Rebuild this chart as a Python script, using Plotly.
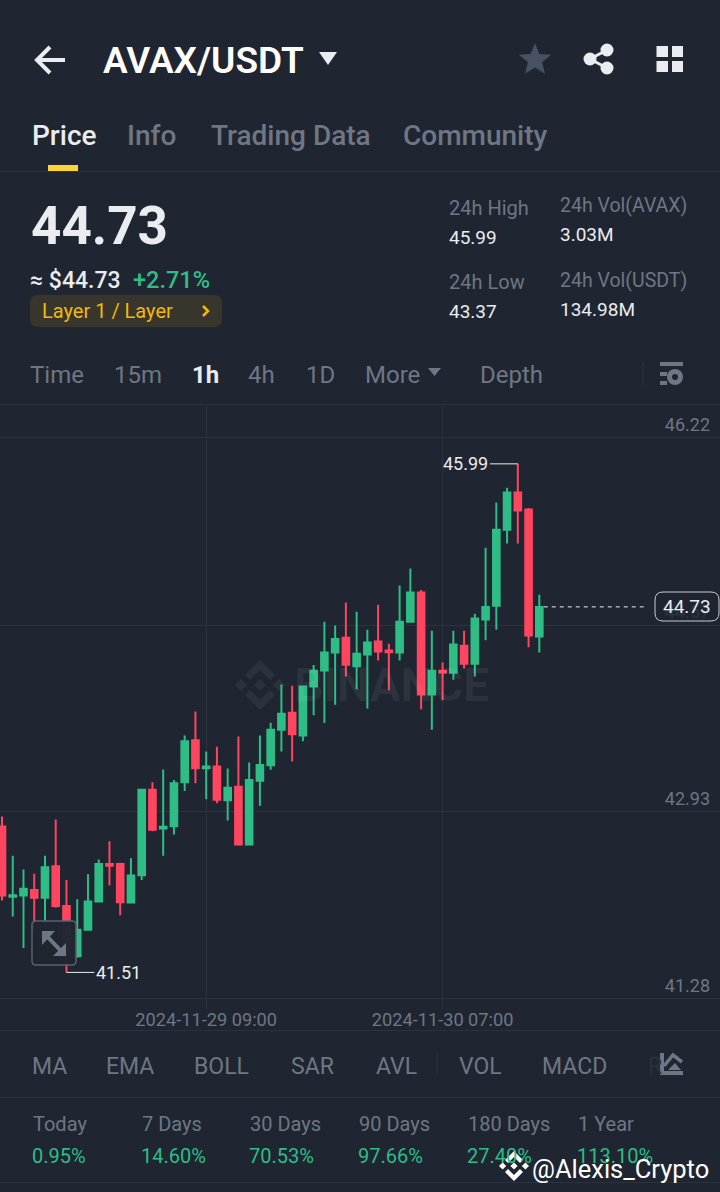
import math
import pandas as pd
import plotly.graph_objects as go

W = 720
H = 1192
BG = "#1f2631"
GRID = "#2c333e"
GREY = "#6f7684"
WHITE = "#eaecef"
GREEN = "#2ebd85"
RED = "#ff4560"
FONT = "Roboto"

# hourly candles
times = pd.date_range("2024-11-28 14:00", periods=51, freq="h")
opens = [42.795, 42.176, 42.188, 42.237, 42.167, 42.446, 42.096, 41.653, 41.885, 42.134,
         42.466, 42.466, 42.126, 42.366, 43.118, 42.778, 42.798, 43.186, 43.556, 43.309,
         43.324, 43.027, 43.145, 42.637, 43.198, 43.335, 43.647, 43.797, 43.597, 44.029,
         44.170, 44.328, 44.458, 44.208, 44.311, 44.425, 44.346, 44.328, 44.599, 44.857,
         43.958, 44.167, 44.149, 44.387, 44.229, 44.619, 44.740, 45.409, 45.738, 45.588,
         44.469]
highs = [42.883, 42.537, 42.416, 42.378, 42.537, 42.857, 42.325, 42.155, 42.375, 42.504,
         42.666, 42.475, 42.516, 43.118, 43.186, 43.297, 43.206, 43.597, 43.808, 43.456,
         43.497, 43.306, 43.588, 43.359, 43.597, 43.709, 44.046, 44.035, 44.029, 44.217,
         44.599, 44.566, 44.769, 44.687, 44.528, 44.748, 44.405, 44.919, 45.068, 44.878,
         44.519, 44.240, 44.519, 44.519, 44.669, 45.250, 45.650, 45.779, 45.990, 45.600,
         44.836]
lows = [42.143, 42.003, 41.726, 41.879, 41.908, 42.079, 41.510, 41.638, 41.885, 42.126,
        42.275, 42.014, 42.120, 42.325, 42.754, 42.537, 42.725, 43.107, 43.177, 43.036,
        43.001, 42.848, 42.628, 42.637, 42.977, 43.295, 43.456, 43.368, 43.547, 43.776,
        43.706, 43.867, 44.117, 44.005, 43.835, 44.258, 43.996, 44.258, 44.599, 43.829,
        43.647, 43.908, 44.088, 44.187, 44.117, 44.437, 44.528, 45.289, 45.289, 44.375,
        44.328]
closes = [42.188, 42.190, 42.246, 42.167, 42.437, 42.096, 41.650, 41.885, 42.134, 42.466,
          42.449, 42.129, 42.364, 43.118, 42.766, 42.792, 43.177, 43.547, 43.309, 43.324,
          43.030, 43.136, 42.637, 43.206, 43.336, 43.647, 43.788, 43.608, 44.029, 44.167,
          44.328, 44.446, 44.220, 44.317, 44.416, 44.337, 44.331, 44.599, 44.857, 43.958,
          44.167, 44.152, 44.399, 44.229, 44.628, 44.728, 45.409, 45.738, 45.579, 44.478,
          44.730]

y_ticks = [46.22, 44.57, 42.93, 41.28]
x_tick_idx = [19, 41]
x_tick_labels = ["2024-11-29 09:00", "2024-11-30 07:00"]

tabs = ["Price", "Info", "Trading Data", "Community"]
tab_x = [32, 127, 211, 403]
intervals = ["Time", "15m", "1h", "4h", "1D", "More", "Depth"]
interval_x = [30, 114, 192, 248, 306, 365, 480]
indicators = ["MA", "EMA", "BOLL", "SAR", "AVL", "VOL", "MACD"]
indicator_x = [32, 106, 194, 291, 376, 459, 542]
periods = ["Today", "7 Days", "30 Days", "90 Days", "180 Days", "1 Year"]
period_vals = ["0.95%", "14.60%", "70.53%", "97.66%", "27.40%", "113.10%"]
period_x = [33, 142, 250, 359, 468, 578]


def px(x):
    return x / W


def py(y):
    return 1 - y / H


annotations = []
shapes = []


def txt(x, y, s, size, color=GREY, weight=400, anchor="left"):
    annotations.append(dict(x=px(x - 1), y=py(y), text=s, xref="paper", yref="paper", showarrow=False,
                            xanchor=anchor, yanchor="middle", borderpad=0,
                            font=dict(family=FONT, size=size, color=color, weight=weight)))


def path(points, fill=None, line=None, width=0, layer="above"):
    d = "M " + " L ".join(f"{px(a):.5f} {py(b):.5f}" for a, b in points)
    if fill:
        d += " Z"
    shapes.append(dict(type="path", path=d, xref="paper", yref="paper", layer=layer,
                       fillcolor=fill or "rgba(0,0,0,0)", line=dict(color=line or "rgba(0,0,0,0)", width=width)))


def rect(x0, y0, x1, y1, fill, layer="above"):
    shapes.append(dict(type="rect", x0=px(x0), x1=px(x1), y0=py(y0), y1=py(y1), xref="paper", yref="paper",
                       fillcolor=fill, line=dict(width=0), layer=layer))


def hline(y, x0=0, x1=W, color=GRID, width=1):
    path([(x0, y), (x1, y)], line=color, width=width)


def circle(cx, cy, r, fill):
    shapes.append(dict(type="circle", x0=px(cx - r), x1=px(cx + r), y0=py(cy - r), y1=py(cy + r),
                       xref="paper", yref="paper", fillcolor=fill, line=dict(width=0)))


def round_rect(x0, y0, x1, y1, r, fill, line=None, width=0):
    d = (f"M {px(x0 + r)} {py(y0)} L {px(x1 - r)} {py(y0)} Q {px(x1)} {py(y0)} {px(x1)} {py(y0 + r)} "
         f"L {px(x1)} {py(y1 - r)} Q {px(x1)} {py(y1)} {px(x1 - r)} {py(y1)} "
         f"L {px(x0 + r)} {py(y1)} Q {px(x0)} {py(y1)} {px(x0)} {py(y1 - r)} "
         f"L {px(x0)} {py(y0 + r)} Q {px(x0)} {py(y0)} {px(x0 + r)} {py(y0)} Z")
    shapes.append(dict(type="path", path=d, xref="paper", yref="paper", fillcolor=fill,
                       line=dict(color=line or "rgba(0,0,0,0)", width=width)))


def logo(cx, cy, r, fill, layer="above"):
    s = r / 25
    def d(a, b, q):
        path([(cx + a * s, cy + b * s - q * s), (cx + a * s + q * s, cy + b * s),
              (cx + a * s, cy + b * s + q * s), (cx + a * s - q * s, cy + b * s)], fill=fill, layer=layer)
    d(0, 0, 6)
    d(-19, 0, 6)
    d(19, 0, 6)
    path([(cx, cy - 25 * s), (cx + 15 * s, cy - 10 * s), (cx + 10 * s, cy - 5 * s), (cx, cy - 15 * s),
          (cx - 10 * s, cy - 5 * s), (cx - 15 * s, cy - 10 * s)], fill=fill, layer=layer)
    path([(cx, cy + 25 * s), (cx + 15 * s, cy + 10 * s), (cx + 10 * s, cy + 5 * s), (cx, cy + 15 * s),
          (cx - 10 * s, cy + 5 * s), (cx - 15 * s, cy + 10 * s)], fill=fill, layer=layer)


# header
path([(65, 60), (37, 60)], line=WHITE, width=4)
path([(50, 47), (37, 60), (50, 73)], line=WHITE, width=4)
txt(103, 61, "AVAX/USDT", 37, "#ffffff", 600)
path([(319, 52), (337, 52), (328, 65)], fill=WHITE)
star = []
for i in range(10):
    r = 17 if i % 2 == 0 else 7.5
    a = -math.pi / 2 + i * math.pi / 5
    star.append((535 + r * math.cos(a), 60 + r * math.sin(a)))
path(star, fill="#475162")
path([(607, 50), (590, 59), (607, 68)], line=WHITE, width=3)
circle(607, 50, 6.5, WHITE)
circle(590, 59, 6.5, WHITE)
circle(607, 68, 6.5, WHITE)
rect(656.5, 46, 668, 57, WHITE)
rect(672, 46, 683, 57, WHITE)
rect(656.5, 61, 668, 72, WHITE)
rect(672, 61, 683, 72, WHITE)

# tabs
for s, x in zip(tabs, tab_x):
    txt(x, 135, s, 28, WHITE if s == "Price" else GREY, 500)
rect(48, 165, 78, 171, "#fcd535")
hline(171.5)

# price block
txt(31, 226, "44.73", 53, WHITE, 700)
txt(30, 280, "≈ $44.73", 23, WHITE, 500)
txt(133, 280, "+2.71%", 23.5, GREEN, 500)
round_rect(30, 295, 222, 327, 8, "#38352c")
txt(42, 311, "Layer 1 / Layer", 20, "#f0b90b")
path([(203, 306), (208, 311), (203, 316)], line="#f0b90b", width=2.5)
txt(449, 208, "24h High", 20)
txt(449, 237, "45.99", 19, WHITE)
txt(449, 282, "24h Low", 20)
txt(449, 311, "43.37", 19, WHITE)
txt(560, 206, "24h Vol(AVAX)", 19.5)
txt(560, 235, "3.03M", 19, WHITE)
txt(560, 280, "24h Vol(USDT)", 19.5)
txt(560, 309, "134.98M", 19, WHITE)

# interval row
for s, x in zip(intervals, interval_x):
    txt(x, 375, s, 24, WHITE if s == "1h" else GREY, 700 if s == "1h" else 400)
path([(428, 368), (441, 368), (434.5, 376)], fill=GREY)
path([(643, 362), (643, 385)], line=GRID, width=1)
rect(660, 362, 683, 366, GREY)
rect(660, 372, 667, 376, GREY)
rect(660, 381, 667, 385, GREY)
circle(675, 377, 8, GREY)
circle(675, 377, 3, BG)
hline(404.5)

# chart furniture
logo(260, 685, 25, "rgba(255,255,255,0.06)", layer="below")
txt(294, 685, "BINANCE", 46, "rgba(255,255,255,0.06)", 700)

shapes.append(dict(type="line", xref="x", yref="y", x0=times[-1] + pd.Timedelta(minutes=25), x1=times[-1] + pd.Timedelta(hours=9.85),
                   y0=closes[-1], y1=closes[-1], line=dict(color=WHITE, width=1, dash="4px,4px")))
round_rect(655, 592, 719, 621, 8, "rgba(31,38,49,0.82)", line="#c9ccd1", width=1)
annotations.append(dict(x=px(687), y=closes[-1], xref="paper", yref="y", text=f"{closes[-1]:.2f}", showarrow=False,
                        xanchor="center", yanchor="middle", font=dict(family=FONT, size=19, color=WHITE)))

hi_i = highs.index(max(highs))
shapes.append(dict(type="line", xref="x", yref="y", x0=times[hi_i], x1=times[hi_i] - pd.Timedelta(hours=2.6),
                   y0=highs[hi_i], y1=highs[hi_i], line=dict(color=WHITE, width=1)))
annotations.append(dict(x=times[hi_i] - pd.Timedelta(hours=2.6), y=highs[hi_i], xref="x", yref="y", text=f"{highs[hi_i]:.2f}",
                        showarrow=False, xanchor="right", yanchor="middle",
                        font=dict(family=FONT, size=18, color=WHITE)))
lo_i = lows.index(min(lows))
shapes.append(dict(type="line", xref="x", yref="y", x0=times[lo_i], x1=times[lo_i] + pd.Timedelta(hours=2.6),
                   y0=lows[lo_i], y1=lows[lo_i], line=dict(color=WHITE, width=1)))
annotations.append(dict(x=times[lo_i] + pd.Timedelta(hours=2.6), y=lows[lo_i], xref="x", yref="y", text=f"{lows[lo_i]:.2f}",
                        showarrow=False, xanchor="left", yanchor="middle",
                        font=dict(family=FONT, size=18, color=WHITE)))

round_rect(32, 921, 76, 965, 4, "rgba(31,38,49,0.97)", line="#596171", width=1.5)
path([(42, 931), (55, 931), (42, 945)], fill=GREY)
path([(45, 934), (63, 953)], line=GREY, width=4)
path([(66, 956), (53, 956), (66, 943)], fill=GREY)

# bottom rows
hline(1030.5)
for s, x in zip(indicators, indicator_x):
    txt(x, 1066, s, 23)
txt(648, 1066, "R", 23, "#2a313c")
path([(437, 1052), (437, 1075)], line=GRID, width=1)
rect(660, 1053, 664, 1075, GREY)
rect(660, 1071, 683, 1075, GREY)
path([(664, 1066), (673, 1055), (682, 1062)], line=GREY, width=3.5)
path([(668, 1070), (675, 1063), (681, 1070)], fill=GREY)
hline(1097.5)
for s, v, x in zip(periods, period_vals, period_x):
    txt(x, 1124, s, 20)
    txt(x - 1, 1156, v, 20, GREEN)
hline(1182.5)

logo(514, 1166, 15, "#ffffff")
txt(532, 1169, "@Alexis_Crypto", 25.5, "#ffffff", 400)

fig = go.Figure(
    go.Candlestick(
        x=times,
        open=opens,
        high=highs,
        low=lows,
        close=closes,
        increasing=dict(line=dict(color=GREEN, width=2), fillcolor=GREEN),
        decreasing=dict(line=dict(color=RED, width=2), fillcolor=RED),
        whiskerwidth=0,
        hoverinfo="skip",
    )
)

left = times[0] - pd.Timedelta(hours=0.186)
right = left + pd.Timedelta(hours=67)

fig.update_layout(
    width=W,
    height=H,
    autosize=False,
    margin=dict(l=0, r=0, t=0, b=0),
    paper_bgcolor=BG,
    plot_bgcolor=BG,
    showlegend=False,
    boxgap=0.12,
    font=dict(family=FONT, color=GREY),
    shapes=shapes,
    annotations=annotations,
    xaxis=dict(
        type="date",
        range=[left, right],
        rangeslider=dict(visible=False),
        tickvals=[times[i] for i in x_tick_idx],
        ticktext=x_tick_labels,
        ticks="",
        showgrid=True,
        gridcolor=GRID,
        gridwidth=1,
        zeroline=False,
        showline=False,
        tickfont=dict(size=18.2, color=GREY),
        ticklabelstandoff=-2,
        anchor="y",
    ),
    yaxis=dict(
        domain=[1 - 1008.5 / H, 1 - 405.5 / H],
        range=[41.192, 46.504],
        side="right",
        ticklabelposition="inside",
        ticklabelstandoff=7,
        ticklabelshift=-13,
        tickvals=y_ticks,
        ticktext=[f"{v:.2f}" for v in y_ticks],
        ticks="",
        showgrid=True,
        gridcolor=GRID,
        gridwidth=1,
        zeroline=False,
        showline=False,
        tickfont=dict(size=18, color=GREY),
    ),
)

fig.write_html("out.html", config=dict(displayModeBar=False),
               post_script="document.body.style.margin='0';document.documentElement.style.overflow='hidden';")
